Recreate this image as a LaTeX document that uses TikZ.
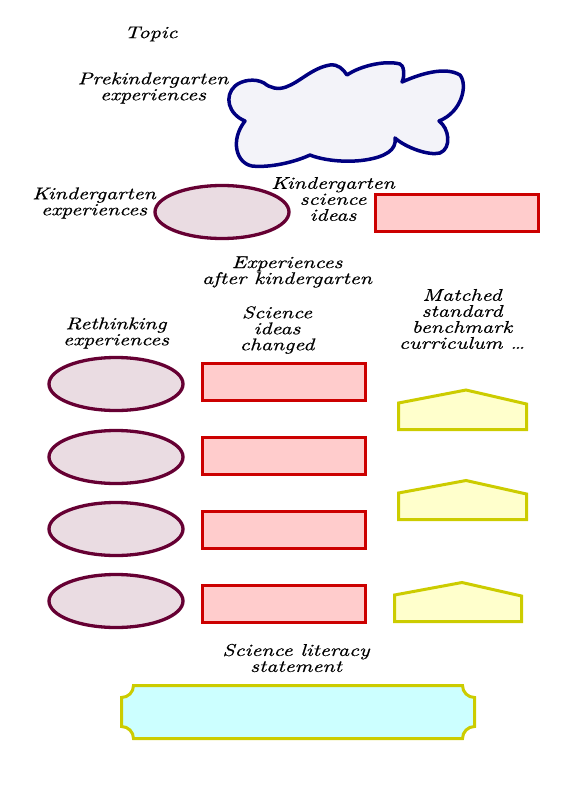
\documentclass[tikz,border=0pt]{standalone}
\usepackage{fontspec}
\usetikzlibrary{positioning}
\usetikzlibrary{shapes.geometric}
\newfontfamily\handfont{lmroman10-italic.otf}[FakeStretch=1.28,FakeBold=0.5]

\definecolor{cloudblue}{HTML}{000080}
\definecolor{cloudfill}{HTML}{F3F3F9}
\definecolor{plum}{HTML}{660033}
\definecolor{plumfill}{HTML}{EADCE2}
\definecolor{boxred}{HTML}{CC0000}
\definecolor{boxfill}{HTML}{FFCCCC}
\definecolor{benchline}{HTML}{CCCC00}
\definecolor{benchfill}{HTML}{FFFFCC}
\definecolor{aqua}{HTML}{CCFFFF}

\tikzset{
  lbl/.style={align=center, inner sep=0pt, font=\handfont\fontsize{17}{16}\selectfont},
  bubble/.style={ellipse, draw=plum, fill=plumfill, line width=3.3pt, minimum width=134pt, minimum height=53pt},
  ideabox/.style={rectangle, draw=boxred, fill=boxfill, line width=3pt, minimum width=163pt, minimum height=37pt},
  roof/.style={draw=benchline, fill=benchfill, line width=3pt, line join=miter},
  plaque/.style={draw=benchline, fill=aqua, line width=3pt}
}

\begin{document}
\begin{tikzpicture}[x=1pt, y=-1pt]
		\useasboundingbox (0,0) rectangle (576,792);
		% labels
		\node (topic) [lbl] at (151,34) {Topic};
		\node (prek) [lbl] at (153,88) {Prekindergarten\\experiences};
		\node (kexp) [lbl] at (94,203) {Kindergarten\\experiences};
		\node (kidea) [lbl] at (333,199) {Kindergarten\\science\\ideas};
		\node (after) [lbl] at (287,272) {Experiences\\after kindergarten};
		\node (rethink) [lbl] at (116,333) {Rethinking\\experiences};
		\node (changed) [lbl] at (277,330) {Science\\ideas\\changed};
		\node (matched) [lbl] at (462,319) {Matched\\standard\\benchmark\\curriculum \dots};
		\node (literacy) [lbl] at (296,658) {Science literacy\\statement};
		% prekindergarten cloud
		\draw [cloudblue, fill=cloudfill, line width=3.5pt, line join=round]
			(245,121) .. controls (228,114) and (224,96) .. (235,86) .. controls (242,80) and (255,78) .. (264,83)
			.. controls (270,88) and (278,90) .. (286,87) .. controls (300,82) and (312,68) .. (330,65)
			.. controls (338,64) and (343,69) .. (347,75)
			.. controls (360,66) and (385,60) .. (400,64) .. controls (404,65) and (405,76) .. (402,82)
			.. controls (420,74) and (445,66) .. (460,75) .. controls (468,85) and (462,112) .. (439,121)
			.. controls (449,128) and (452,148) .. (440,153) .. controls (428,156) and (405,147) .. (395,138)
			.. controls (397,150) and (385,157) .. (365,160) .. controls (345,163) and (322,160) .. (310,155)
			.. controls (295,162) and (270,168) .. (252,166) .. controls (236,163) and (230,140) .. (245,121)
			-- cycle;
		% kindergarten
		\node (kbubble) [bubble] at (222,212) {};
		\node (kbox) [ideabox] at (457,213) {};
		% rows after kindergarten
		\node (rethink1) [bubble] at (116,384) {};
		\node (rethink2) [bubble, below of = rethink1, node distance=73pt] {};
		\node (rethink3) [bubble, below of = rethink2, node distance=72pt] {};
		\node (rethink4) [bubble, below of = rethink3, node distance=72pt] {};
		\node (changed1) [ideabox] at (284,382) {};
		\node (changed2) [ideabox, below of = changed1, node distance=74pt] {};
		\node (changed3) [ideabox, below of = changed2, node distance=74pt] {};
		\node (changed4) [ideabox, below of = changed3, node distance=74pt] {};
		% benchmarks
		\draw [roof] (398.5,403) -- (466,390) -- (526.5,404) -- (526.5,429.5) -- (398.5,429.5) -- cycle;
		\draw [roof] (398.5,493) -- (466,480.5) -- (526.5,494) -- (526.5,519.5) -- (398.5,519.5) -- cycle;
		\draw [roof] (394.5,595) -- (462,582.5) -- (521.5,596) -- (521.5,621.5) -- (394.5,621.5) -- cycle;
		% literacy statement
		\draw [plaque] (133.5,685.5) -- (462.5,685.5) .. controls (462.5,692.1) and (467.9,697.5) .. (474.5,697.5)
			-- (474.5,726.5) .. controls (467.9,726.5) and (462.5,731.9) .. (462.5,738.5)
			-- (133.5,738.5) .. controls (133.5,731.9) and (128.1,726.5) .. (121.5,726.5)
			-- (121.5,697.5) .. controls (128.1,697.5) and (133.5,692.1) .. (133.5,685.5) -- cycle;
\end{tikzpicture}
\end{document}
